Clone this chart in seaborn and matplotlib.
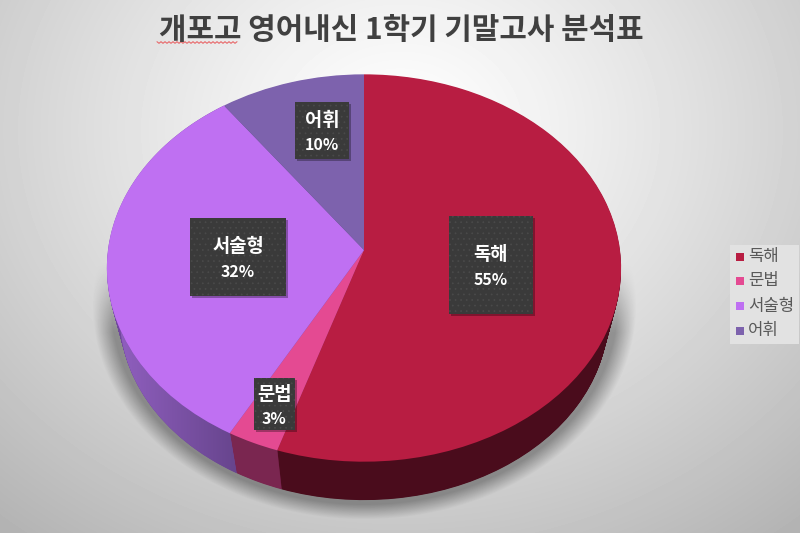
import numpy as np
import matplotlib
matplotlib.use('Agg')
import matplotlib.pyplot as plt
import seaborn as sns
from matplotlib.patches import Rectangle
from matplotlib.path import Path
from matplotlib.transforms import Transform

sns.set_theme(style='white')
plt.rcParams['font.family'] = ['Noto Sans CJK KR', 'DejaVu Sans']
plt.rcParams['hatch.linewidth'] = 0.5

title = '개포고 영어내신 1학기 기말고사 분석표'
categories = ['독해', '문법', '서술형', '어휘']
percents = [55, 3, 32, 10]
top_colors = ['#b81d42', '#e44a92', '#bf70f2', '#7d62ad']
side_colors = ['#4a0c1c', '#7a2650', '#70489c', '#5a4680']

W, H = 800, 533
fig = plt.figure(figsize=(W / 100, H / 100), dpi=100)

# background gradient + pie shadow, in pixel coordinates
bg = fig.add_axes([0, 0, 1, 1])
xx, yy = np.meshgrid(np.arange(W), np.arange(H))
dist = np.sqrt(((xx - 400) / 620) ** 2 + ((yy - 130) / 520) ** 2)
shade = 1.0 - 0.30 * np.clip(dist, 0, 1) ** 1.2
r = np.sqrt(((xx - 364) / 272) ** 2 + ((yy - 305) / 214) ** 2)
shadow = np.clip((1.0 - r) / 0.07, 0, 1) * np.clip((yy - 262) / 70, 0, 1)
shade = shade * (1 - 0.34 * shadow)
bg.imshow(shade, cmap='gray', vmin=0, vmax=1, extent=(0, W, H, 0), aspect='auto')
bg.set_xlim(0, W)
bg.set_ylim(H, 0)
bg.axis('off')


class Tilted(Transform):
    # unit pie -> pixels, seen from the front with some perspective
    input_dims = output_dims = 2

    def __init__(self, cx, cy, rx, ry, k=0.093):
        super().__init__()
        self.p = (cx, cy, rx, ry, k)

    def transform_non_affine(self, xy):
        cx, cy, rx, ry, k = self.p
        xy = np.asarray(xy, dtype=float)
        w = 1 + k * xy[:, 1]
        return np.column_stack([cx + rx * xy[:, 0] / w, cy - ry * xy[:, 1] / w])


cx, cy, rx, ry = 364, 250, 256, 192
depth = 38
end_scale, end_drop = 0.95, 49


def layer(frac):
    s = 1 + (end_scale - 1) * frac
    return Tilted(cx, cy + end_drop * frac, rx * s, ry * s)


pie_ax = fig.add_axes([0, 0, 1, 1], facecolor='none')
for i in range(depth * 2, 0, -1):
    wedges, _ = pie_ax.pie(percents, colors=side_colors, startangle=90, counterclock=False,
                           wedgeprops={'linewidth': 0})
    for w in wedges:
        w.set_transform(layer(i / (depth * 2)) + bg.transData)

# purple wall gets lighter towards the left
a0 = 2 * np.pi * sum(percents[:2]) / 100
a1 = 2 * np.pi * sum(percents[:3]) / 100
theta = np.linspace(a0, a1, 80)
unit = np.column_stack([np.sin(theta), np.cos(theta)])
wall = np.vstack([layer(0).transform_non_affine(unit), layer(1).transform_non_affine(unit[::-1])])
ramp = pie_ax.imshow(np.linspace(0, 1, 128)[None, :], cmap=sns.blend_palette(['#9462c4', '#66448c'], as_cmap=True),
                     extent=(105, 240, H, 0), aspect='auto', zorder=2)
ramp.set_transform(bg.transData)
ramp.set_clip_path(Path(np.vstack([wall, wall[:1]]), closed=True), transform=bg.transData)

wedges, _ = pie_ax.pie(percents, colors=top_colors, startangle=90, counterclock=False,
                       wedgeprops={'linewidth': 0})
for w in wedges:
    w.set_transform(layer(0) + bg.transData)
    w.set_zorder(3)
pie_ax.set_aspect('auto')
pie_ax.axis('off')

# text layer
top = fig.add_axes([0, 0, 1, 1], facecolor='none')
top.set_xlim(0, W)
top.set_ylim(H, 0)
top.axis('off')

top.text(401, 30, title, ha='center', va='center', fontsize=21.5, fontweight='bold', color='#404040')
sq_x = np.arange(157, 239, 2.0)
sq_y = 42.5 + np.where(np.arange(sq_x.size) % 2, 0.8, -0.8)
top.plot(sq_x, sq_y, color='#e8686a', lw=0.8)

boxes = [(449, 216, 84, 98), (254, 378, 41, 52), (190, 218, 96, 78), (295, 102, 54, 57)]
for (x, y, w, h), name, pct in zip(boxes, categories, percents):
    top.add_patch(Rectangle((x + 2, y + 2), w, h, fc='#000000', alpha=0.3, lw=0))
    top.add_patch(Rectangle((x, y), w, h, fc='#3a3a3a', ec='#4a4a4a', hatch='...', lw=0))
    mx, my = x + w / 2, y + h / 2
    top.text(mx, my - 10, name, ha='center', va='center', fontsize=13.5, fontweight='bold', color='white')
    top.text(mx, my + 15, f'{pct}%', ha='center', va='center', fontsize=11.5, fontweight='bold', color='white')

# legend
top.add_patch(Rectangle((730, 245), 69, 99, fc='#e2e2e2', lw=0))
for name, col, y in zip(categories, top_colors, [257, 281, 306, 331]):
    top.add_patch(Rectangle((736, y - 4), 8, 8, fc=col, lw=0))
    top.text(748, y, name, ha='left', va='center', fontsize=12, color='#595959')

fig.savefig('out.png', dpi=100)
